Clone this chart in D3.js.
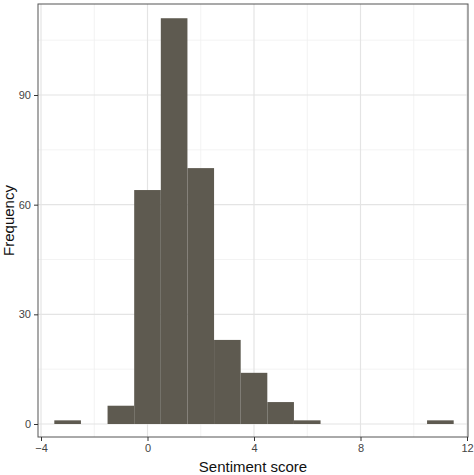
<!DOCTYPE html>
<html><head><meta charset="utf-8">
<script src="https://cdn.jsdelivr.net/npm/d3@7"></script>
<style>body{margin:0;background:#fff}</style>
</head><body>
<script>
// histogram bins (binwidth 1, centred on integers)
const binStarts = [-3.5, -1.5, -0.5, 0.5, 1.5, 2.5, 3.5, 4.5, 5.5, 10.5];
const counts = [1, 5, 64, 111, 70, 23, 14, 6, 1, 1];
const xTicks = [-4, 0, 4, 8, 12];
const yTicks = [0, 30, 60, 90];

const W = 474, H = 475;
const pLeft = 38, pRight = 468, pTop = 4, pBottom = 437;

const x = d3.scaleLinear().domain([-4, 12]).range([41, 467]);
const y = d3.scaleLinear().domain([0, 90]).range([424, 95]);

const svg = d3.select('body').append('svg').attr('width', W).attr('height', H)
    .style('font-family', 'Liberation Sans, Arial, sans-serif');

// minor grid
[-2, 2, 6, 10].forEach(v => svg.append('line')
    .attr('x1', x(v)).attr('x2', x(v)).attr('y1', pTop).attr('y2', pBottom)
    .attr('stroke', '#f0f0f0').attr('stroke-width', 0.8));
[15, 45, 75, 105].forEach(v => svg.append('line')
    .attr('y1', y(v)).attr('y2', y(v)).attr('x1', pLeft).attr('x2', pRight)
    .attr('stroke', '#f0f0f0').attr('stroke-width', 0.8));
// major grid
xTicks.forEach(v => svg.append('line')
    .attr('x1', x(v)).attr('x2', x(v)).attr('y1', pTop).attr('y2', pBottom)
    .attr('stroke', '#e4e4e4').attr('stroke-width', 1.2));
yTicks.forEach(v => svg.append('line')
    .attr('y1', y(v)).attr('y2', y(v)).attr('x1', pLeft).attr('x2', pRight)
    .attr('stroke', '#e4e4e4').attr('stroke-width', 1.2));

// bars
svg.selectAll('rect.bar').data(binStarts).join('rect')
    .attr('class', 'bar')
    .attr('x', d => x(d)).attr('width', d => x(d + 1) - x(d))
    .attr('y', (d, i) => y(counts[i])).attr('height', (d, i) => y(0) - y(counts[i]))
    .attr('fill', '#5e5a50');

// panel border
svg.append('rect').attr('x', pLeft).attr('y', pTop)
    .attr('width', pRight - pLeft).attr('height', pBottom - pTop)
    .attr('fill', 'none').attr('stroke', '#555').attr('stroke-width', 1);

// axes
const xAxis = svg.append('g').attr('transform', `translate(0,${pBottom})`)
    .call(d3.axisBottom(x).tickValues(xTicks).tickSize(4).tickPadding(3));
const yAxis = svg.append('g').attr('transform', `translate(${pLeft},0)`)
    .call(d3.axisLeft(y).tickValues(yTicks).tickSize(4).tickPadding(3));
[xAxis, yAxis].forEach(a => {
    a.select('.domain').remove();
    a.selectAll('line').attr('stroke', '#333');
    a.selectAll('text').attr('fill', '#444').style('font-size', '11px')
        .style('font-family', 'Liberation Sans, Arial, sans-serif');
});

svg.append('text').attr('x', (pLeft + pRight) / 2).attr('y', 472)
    .attr('text-anchor', 'middle').style('font-size', '15px').attr('fill', '#111')
    .text('Sentiment score');
svg.append('text').attr('transform', `translate(14,${(pTop + pBottom) / 2}) rotate(-90)`)
    .attr('text-anchor', 'middle').style('font-size', '15px').attr('fill', '#111')
    .text('Frequency');
</script>
</body></html>
